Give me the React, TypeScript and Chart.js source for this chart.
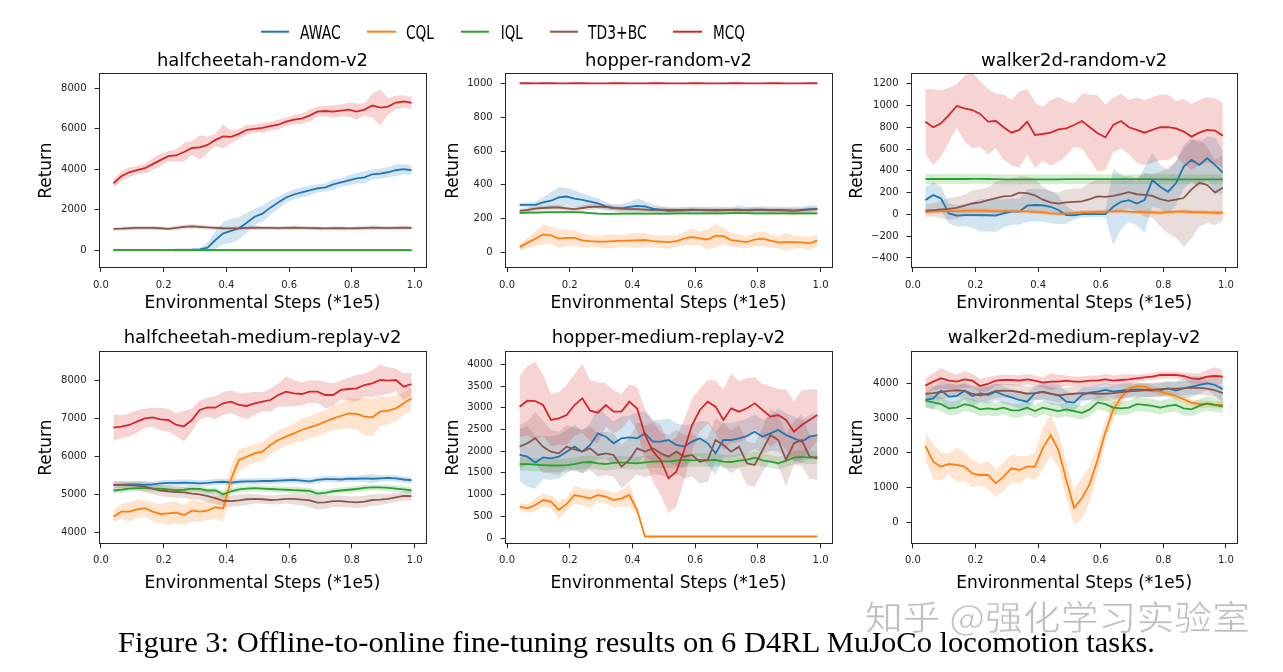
import React, { useEffect, useRef } from 'react';
import { Chart, registerables } from 'chart.js';

Chart.register(...registerables);
Chart.defaults.font.family = "'DejaVu Sans', sans-serif";

// ---------------- data ----------------
const STEPS = [0.04, 0.065, 0.09, 0.115, 0.14, 0.165, 0.19, 0.215, 0.24, 0.265, 0.29, 0.315, 0.34, 0.365, 0.39, 0.415, 0.44, 0.465, 0.49, 0.515, 0.54, 0.565, 0.59, 0.615, 0.64, 0.665, 0.69, 0.715, 0.74, 0.765, 0.79, 0.815, 0.84, 0.865, 0.89, 0.915, 0.94, 0.965, 0.99];
const X_TICKS = [0, 0.2, 0.4, 0.6, 0.8, 1.0];
const ALGOS = ['AWAC', 'CQL', 'IQL', 'TD3+BC', 'MCQ'];
const COLORS = ['#1f77b4', '#ff7f0e', '#2ca02c', '#8c564b', '#d62728'];
const BAND_COLORS = ['rgba(31,119,180,0.2)', 'rgba(255,127,14,0.2)', 'rgba(44,160,44,0.2)', 'rgba(140,86,75,0.2)', 'rgba(214,39,40,0.2)'];

// halfcheetah-random-v2
const HCR_Y_TICKS = [0, 2000, 4000, 6000, 8000];
const HCR_AWAC = [0, 0, 0, 0, 0, 0, 0, 0, 10, 10, 20, 40, 120, 500, 830, 950, 1080, 1350, 1650, 1800, 2100, 2350, 2600, 2750, 2850, 2950, 3050, 3100, 3250, 3350, 3450, 3550, 3600, 3750, 3780, 3850, 3950, 4000, 3950];
const HCR_AWAC_SD = [20, 20, 20, 20, 20, 20, 20, 20, 80, 80, 80, 80, 250, 450, 550, 600, 550, 500, 400, 400, 350, 300, 250, 250, 250, 250, 200, 200, 250, 200, 250, 250, 300, 250, 250, 250, 300, 250, 250];
const HCR_CQL = [0, 0, 0, 0, 0, 0, 0, 0, 0, 0, 0, 0, 0, 0, 0, 0, 0, 0, 0, 0, 0, 0, 0, 0, 0, 0, 0, 0, 0, 0, 0, 0, 0, 0, 0, 0, 0, 0, 0];
const HCR_CQL_SD = [30, 30, 30, 30, 30, 30, 30, 30, 30, 30, 30, 30, 30, 30, 30, 30, 30, 30, 30, 30, 30, 30, 30, 30, 30, 30, 30, 30, 30, 30, 30, 30, 30, 30, 30, 30, 30, 30, 30];
const HCR_IQL = [0, 0, 0, 0, 0, 0, 0, 0, 0, 0, 0, 0, 0, 0, 0, 0, 0, 0, 0, 0, 0, 0, 0, 0, 0, 0, 0, 0, 0, 0, 0, 0, 0, 0, 0, 0, 0, 0, 0];
const HCR_IQL_SD = [20, 20, 20, 20, 20, 20, 20, 20, 20, 20, 20, 20, 20, 20, 20, 20, 20, 20, 20, 20, 20, 20, 20, 20, 20, 20, 20, 20, 20, 20, 20, 20, 20, 20, 20, 20, 20, 20, 20];
const HCR_TD3BC = [1050, 1060, 1080, 1100, 1100, 1100, 1080, 1050, 1100, 1150, 1170, 1150, 1120, 1100, 1080, 1070, 1080, 1100, 1110, 1100, 1100, 1090, 1100, 1110, 1100, 1090, 1080, 1070, 1080, 1080, 1070, 1080, 1090, 1110, 1100, 1090, 1100, 1110, 1100];
const HCR_TD3BC_SD = [80, 90, 100, 100, 110, 100, 90, 80, 100, 110, 120, 110, 100, 100, 90, 90, 100, 100, 110, 100, 100, 90, 100, 110, 100, 100, 90, 90, 100, 100, 90, 100, 110, 120, 110, 100, 100, 110, 100];
const HCR_MCQ = [3300, 3650, 3850, 3950, 4050, 4250, 4450, 4650, 4680, 4850, 5050, 5080, 5200, 5450, 5620, 5600, 5750, 5950, 6000, 6050, 6130, 6200, 6350, 6450, 6500, 6650, 6850, 6880, 6850, 6900, 6950, 6850, 6950, 7150, 7050, 7100, 7300, 7350, 7280];
const HCR_MCQ_SD = [200, 250, 250, 200, 250, 300, 300, 250, 300, 450, 350, 600, 400, 300, 600, 300, 250, 250, 200, 250, 200, 250, 200, 250, 250, 300, 250, 250, 300, 300, 350, 400, 300, 600, 900, 400, 350, 300, 300];

// hopper-random-v2
const HR_Y_TICKS = [0, 200, 400, 600, 800, 1000];
const HR_AWAC = [280, 280, 280, 295, 305, 325, 330, 318, 310, 300, 290, 272, 262, 260, 268, 275, 272, 258, 250, 245, 246, 248, 250, 250, 248, 250, 248, 250, 252, 248, 250, 252, 250, 250, 248, 246, 250, 255, 255];
const HR_AWAC_SD = [10, 15, 20, 30, 50, 60, 50, 50, 40, 35, 30, 25, 20, 25, 30, 45, 30, 25, 25, 20, 20, 20, 20, 20, 20, 20, 20, 20, 25, 20, 20, 20, 20, 20, 20, 25, 20, 25, 20];
const HR_CQL = [30, 55, 80, 105, 100, 80, 85, 85, 70, 65, 62, 62, 65, 68, 68, 70, 72, 65, 62, 60, 65, 80, 90, 82, 75, 98, 95, 72, 65, 60, 75, 80, 68, 58, 60, 60, 58, 52, 70];
const HR_CQL_SD = [20, 30, 45, 60, 50, 55, 50, 45, 40, 35, 35, 40, 40, 35, 40, 45, 40, 35, 35, 40, 35, 40, 50, 40, 60, 70, 50, 40, 40, 35, 40, 45, 40, 35, 55, 40, 35, 40, 35];
const HR_IQL = [232, 234, 235, 236, 237, 238, 238, 238, 236, 232, 228, 227, 227, 228, 228, 228, 228, 229, 229, 229, 230, 230, 230, 230, 230, 230, 230, 231, 231, 231, 230, 230, 230, 230, 230, 230, 230, 230, 230];
const HR_IQL_SD = [8, 8, 8, 8, 8, 8, 8, 8, 8, 8, 8, 8, 8, 8, 8, 8, 8, 8, 8, 8, 8, 8, 8, 8, 8, 8, 8, 8, 8, 8, 8, 8, 8, 8, 8, 8, 8, 8, 8];
const HR_TD3BC = [245, 250, 258, 262, 265, 265, 260, 255, 262, 268, 270, 268, 262, 258, 255, 255, 252, 250, 252, 250, 250, 250, 252, 250, 250, 248, 250, 250, 248, 250, 252, 250, 248, 250, 248, 246, 248, 252, 256];
const HR_TD3BC_SD = [12, 14, 15, 15, 15, 16, 15, 14, 15, 16, 16, 15, 15, 14, 14, 14, 14, 14, 14, 14, 14, 14, 14, 14, 14, 14, 14, 14, 14, 14, 14, 14, 14, 14, 14, 14, 14, 14, 14];
const HR_MCQ = [1002, 1002, 1001, 1002, 1002, 1001, 1001, 1002, 1002, 1001, 1001, 1001, 1002, 1002, 1001, 1001, 1001, 1002, 1002, 1001, 1001, 1001, 1002, 1002, 1001, 1001, 1001, 1002, 1002, 1001, 1001, 1001, 1002, 1002, 1001, 1001, 1001, 1002, 1002];
const HR_MCQ_SD = [3, 3, 3, 3, 3, 3, 3, 3, 3, 3, 3, 3, 3, 3, 3, 3, 3, 3, 3, 3, 3, 3, 3, 3, 3, 3, 3, 3, 3, 3, 3, 3, 3, 3, 3, 3, 3, 3, 3];

// walker2d-random-v2
const WR_Y_TICKS = [-400, -200, 0, 200, 400, 600, 800, 1000, 1200];
const WR_AWAC = [131, 177, 147, 9, -12, -6, -6, -8, -8, -10, 9, 25, 25, 80, 86, 84, 70, 40, -6, -8, 3, 3, 3, 3, 70, 116, 131, 100, 131, 316, 254, 208, 285, 438, 500, 454, 515, 454, 383];
const WR_AWAC_SD = [120, 120, 110, 90, 100, 100, 120, 150, 150, 150, 130, 120, 120, 150, 150, 150, 150, 130, 80, 40, 30, 30, 30, 30, 350, 250, 200, 200, 300, 250, 200, 200, 200, 200, 200, 200, 200, 250, 200];
const WR_CQL = [20, 25, 28, 30, 30, 32, 35, 35, 33, 30, 30, 28, 30, 28, 22, 18, 10, 5, 8, 12, 18, 20, 24, 26, 28, 30, 25, 22, 20, 18, 15, 20, 25, 28, 22, 20, 18, 15, 15];
const WR_CQL_SD = [20, 20, 20, 20, 20, 20, 20, 20, 20, 20, 20, 20, 20, 20, 20, 20, 20, 20, 20, 20, 20, 20, 20, 20, 20, 20, 20, 20, 20, 20, 20, 20, 20, 20, 20, 20, 20, 20, 20];
const WR_IQL = [325, 325, 325, 325, 325, 325, 326, 326, 325, 324, 322, 322, 322, 322, 322, 322, 322, 322, 323, 323, 323, 323, 323, 323, 323, 323, 323, 323, 323, 323, 322, 322, 322, 322, 322, 322, 322, 322, 322];
const WR_IQL_SD = [45, 45, 45, 45, 45, 45, 45, 45, 45, 45, 45, 45, 45, 45, 45, 45, 45, 45, 45, 45, 45, 45, 45, 45, 45, 45, 45, 45, 45, 45, 45, 45, 45, 45, 45, 45, 45, 45, 45];
const WR_TD3BC = [35, 40, 45, 50, 60, 80, 100, 110, 130, 150, 165, 170, 200, 195, 175, 135, 110, 100, 110, 115, 120, 140, 165, 160, 170, 185, 205, 185, 180, 170, 140, 125, 135, 150, 230, 290, 270, 200, 245];
const WR_TD3BC_SD = [60, 60, 80, 100, 100, 100, 120, 120, 120, 150, 150, 150, 150, 150, 150, 120, 100, 100, 120, 120, 120, 150, 150, 150, 150, 150, 150, 150, 200, 200, 250, 300, 350, 450, 450, 400, 350, 300, 300];
const WR_MCQ = [851, 800, 836, 912, 995, 973, 958, 922, 851, 857, 800, 750, 775, 850, 729, 738, 750, 781, 790, 820, 857, 800, 744, 707, 820, 857, 800, 775, 750, 775, 800, 800, 790, 760, 714, 750, 775, 769, 723];
const WR_MCQ_SD = [300, 350, 300, 250, 200, 300, 350, 300, 300, 250, 300, 300, 350, 300, 300, 250, 300, 300, 250, 200, 250, 300, 350, 300, 250, 250, 250, 300, 300, 300, 300, 300, 250, 300, 300, 300, 300, 300, 300];

// halfcheetah-medium-replay-v2
const HMR_Y_TICKS = [4000, 5000, 6000, 7000, 8000];
const HMR_AWAC = [5250, 5255, 5260, 5260, 5250, 5260, 5290, 5300, 5300, 5310, 5300, 5290, 5300, 5320, 5330, 5310, 5330, 5340, 5340, 5350, 5350, 5360, 5370, 5380, 5360, 5340, 5380, 5400, 5400, 5390, 5410, 5410, 5420, 5410, 5420, 5430, 5420, 5390, 5370];
const HMR_AWAC_SD = [80, 80, 80, 80, 80, 80, 80, 80, 80, 80, 80, 80, 80, 80, 80, 80, 80, 80, 80, 80, 80, 80, 80, 80, 80, 80, 80, 80, 80, 80, 80, 80, 100, 120, 80, 80, 80, 80, 80];
const HMR_CQL = [4412, 4544, 4544, 4605, 4632, 4544, 4482, 4500, 4517, 4456, 4570, 4544, 4570, 4658, 4632, 5400, 5904, 5991, 6079, 6123, 6298, 6430, 6518, 6605, 6693, 6763, 6825, 6912, 7000, 7061, 7132, 7114, 7044, 7026, 7175, 7202, 7263, 7395, 7526];
const HMR_CQL_SD = [150, 200, 250, 250, 200, 250, 250, 300, 300, 250, 300, 250, 250, 300, 350, 350, 300, 250, 250, 250, 250, 250, 250, 250, 300, 300, 300, 300, 300, 350, 400, 400, 500, 500, 400, 350, 350, 300, 300];
const HMR_IQL = [5100, 5120, 5150, 5160, 5160, 5150, 5150, 5130, 5110, 5120, 5150, 5140, 5100, 5100, 5000, 5080, 5130, 5150, 5160, 5150, 5140, 5130, 5120, 5110, 5100, 5090, 5020, 5040, 5080, 5100, 5120, 5140, 5170, 5180, 5180, 5170, 5150, 5130, 5100];
const HMR_IQL_SD = [80, 80, 80, 80, 80, 80, 80, 80, 80, 80, 80, 80, 80, 80, 80, 80, 80, 80, 80, 80, 80, 80, 80, 80, 80, 80, 80, 80, 80, 80, 80, 80, 80, 80, 80, 80, 80, 80, 80];
const HMR_TD3BC = [5250, 5250, 5240, 5230, 5200, 5150, 5100, 5080, 5060, 5050, 5020, 5000, 4950, 4900, 4830, 4820, 4840, 4870, 4880, 4870, 4850, 4860, 4880, 4880, 4860, 4840, 4780, 4790, 4820, 4820, 4800, 4790, 4810, 4850, 4860, 4880, 4920, 4960, 4950];
const HMR_TD3BC_SD = [100, 100, 100, 120, 150, 150, 150, 150, 150, 150, 150, 150, 150, 150, 150, 150, 150, 150, 120, 120, 120, 120, 120, 150, 150, 180, 180, 180, 150, 150, 150, 150, 150, 150, 150, 120, 120, 120, 120];
const HMR_MCQ = [6754, 6780, 6825, 6912, 7000, 7026, 6974, 6956, 6825, 6790, 6956, 7219, 7289, 7280, 7395, 7439, 7351, 7325, 7395, 7439, 7482, 7614, 7702, 7658, 7640, 7702, 7702, 7614, 7614, 7746, 7772, 7790, 7877, 7921, 8009, 7991, 8009, 7833, 7903];
const HMR_MCQ_SD = [350, 300, 300, 300, 250, 250, 300, 300, 300, 400, 300, 250, 250, 300, 300, 300, 300, 350, 300, 250, 300, 300, 400, 350, 300, 300, 300, 350, 300, 250, 300, 350, 300, 350, 400, 350, 300, 350, 300];

// hopper-medium-replay-v2
const HOMR_Y_TICKS = [0, 500, 1000, 1500, 2000, 2500, 3000, 3500, 4000];
const HOMR_AWAC = [1912, 1873, 1735, 1858, 1835, 1873, 1989, 2104, 1989, 2142, 2411, 2334, 2181, 2296, 2319, 2296, 2411, 2219, 2219, 2257, 2142, 2104, 2219, 2296, 2181, 1950, 2257, 2257, 2296, 2349, 2449, 2334, 2411, 2488, 2372, 2296, 2219, 2334, 2372];
const HOMR_AWAC_SD = [600, 700, 600, 500, 500, 500, 500, 500, 500, 500, 600, 500, 500, 500, 500, 600, 500, 500, 500, 500, 500, 500, 400, 400, 500, 500, 400, 400, 400, 400, 400, 400, 400, 500, 500, 500, 500, 500, 500];
const HOMR_CQL = [722, 683, 760, 875, 837, 650, 780, 990, 952, 914, 990, 952, 875, 914, 990, 640, 35, 35, 35, 35, 35, 35, 35, 35, 35, 35, 35, 35, 35, 35, 35, 35, 35, 35, 35, 35, 35, 35, 35];
const HOMR_CQL_SD = [80, 100, 150, 150, 150, 200, 150, 200, 200, 200, 150, 150, 150, 200, 250, 100, 5, 5, 5, 5, 5, 5, 5, 5, 5, 5, 5, 5, 5, 5, 5, 5, 5, 5, 5, 5, 5, 5, 5];
const HOMR_IQL = [1700, 1700, 1690, 1680, 1670, 1670, 1680, 1700, 1740, 1750, 1720, 1700, 1730, 1740, 1730, 1720, 1740, 1760, 1770, 1760, 1780, 1800, 1790, 1800, 1790, 1800, 1760, 1750, 1780, 1800, 1850, 1790, 1760, 1720, 1780, 1850, 1870, 1850, 1860];
const HOMR_IQL_SD = [150, 150, 150, 150, 150, 150, 150, 150, 150, 150, 150, 150, 150, 150, 150, 150, 150, 150, 150, 150, 150, 150, 150, 150, 150, 150, 150, 150, 150, 150, 150, 150, 150, 150, 150, 150, 150, 150, 150];
const HOMR_TD3BC = [2104, 2181, 2300, 2100, 1989, 1950, 2104, 2042, 1989, 2065, 1912, 1950, 1912, 1643, 1797, 2065, 1989, 2065, 1950, 1873, 1989, 1873, 1912, 1758, 1797, 2257, 2142, 1989, 2104, 1720, 1681, 2027, 2372, 2257, 1797, 2181, 2257, 1873, 1835];
const HOMR_TD3BC_SD = [500, 500, 600, 600, 500, 500, 500, 500, 500, 500, 500, 500, 500, 500, 500, 600, 600, 600, 500, 500, 500, 500, 500, 500, 500, 500, 500, 500, 500, 500, 500, 500, 600, 600, 600, 500, 600, 500, 500];
const HOMR_MCQ = [3025, 3163, 3155, 3063, 2718, 2756, 2833, 3063, 3217, 2933, 2887, 3063, 2910, 2910, 3140, 2980, 2372, 2000, 1797, 1374, 1528, 2027, 2603, 2948, 3140, 3025, 2718, 2987, 2910, 2987, 3102, 2948, 2795, 2833, 2718, 2449, 2603, 2718, 2833];
const HOMR_MCQ_SD = [700, 800, 900, 700, 600, 600, 700, 700, 800, 700, 700, 500, 500, 400, 400, 500, 600, 700, 800, 800, 800, 700, 600, 500, 500, 600, 700, 800, 700, 700, 600, 600, 700, 600, 700, 700, 800, 700, 600];

// walker2d-medium-replay-v2
const WMR_Y_TICKS = [0, 1000, 2000, 3000, 4000];
const WMR_AWAC = [3520, 3568, 3789, 3616, 3635, 3789, 3635, 3712, 3664, 3760, 3664, 3597, 3520, 3472, 3712, 3760, 3693, 3664, 3472, 3443, 3664, 3731, 3760, 3808, 3760, 3789, 3808, 3827, 3808, 3789, 3808, 3856, 3789, 3856, 3904, 3952, 4000, 3952, 3827];
const WMR_AWAC_SD = [200, 300, 300, 400, 300, 250, 300, 250, 250, 250, 250, 250, 250, 250, 200, 250, 300, 300, 300, 250, 200, 200, 200, 200, 200, 200, 200, 200, 200, 200, 200, 200, 250, 300, 300, 250, 200, 300, 400];
const WMR_CQL = [2200, 1746, 1602, 1679, 1650, 1602, 1410, 1362, 1362, 1122, 1314, 1554, 1506, 1602, 1602, 2129, 2513, 2081, 1218, 420, 700, 1100, 1800, 2600, 3250, 3600, 3850, 3920, 3904, 3827, 3760, 3693, 3635, 3539, 3443, 3405, 3405, 3376, 3376];
const WMR_CQL_SD = [400, 500, 400, 300, 500, 400, 400, 300, 400, 400, 400, 400, 400, 300, 400, 600, 600, 500, 500, 500, 600, 500, 400, 300, 300, 200, 100, 100, 100, 100, 100, 100, 100, 100, 100, 100, 100, 100, 100];
const WMR_IQL = [3500, 3450, 3400, 3280, 3300, 3400, 3350, 3250, 3280, 3250, 3300, 3220, 3220, 3300, 3200, 3300, 3250, 3200, 3250, 3200, 3150, 3250, 3450, 3400, 3300, 3280, 3300, 3400, 3380, 3350, 3300, 3350, 3380, 3280, 3250, 3350, 3420, 3380, 3330];
const WMR_IQL_SD = [200, 200, 200, 200, 200, 200, 200, 200, 200, 200, 200, 200, 200, 200, 200, 200, 200, 200, 200, 200, 200, 200, 200, 200, 200, 200, 200, 200, 200, 200, 200, 200, 200, 200, 200, 200, 200, 200, 200];
const WMR_TD3BC = [3700, 3720, 3750, 3780, 3800, 3780, 3700, 3650, 3700, 3780, 3790, 3780, 3750, 3700, 3720, 3750, 3700, 3650, 3680, 3700, 3720, 3710, 3700, 3700, 3720, 3750, 3770, 3780, 3800, 3810, 3830, 3850, 3850, 3860, 3880, 3870, 3850, 3800, 3720];
const WMR_TD3BC_SD = [200, 200, 200, 200, 200, 200, 200, 200, 200, 200, 200, 200, 200, 200, 200, 200, 200, 200, 200, 200, 200, 200, 200, 200, 200, 200, 200, 200, 200, 200, 200, 200, 200, 200, 200, 200, 200, 200, 200];
const WMR_MCQ = [3933, 4048, 4144, 4077, 4048, 4115, 4077, 3923, 3981, 4077, 4096, 4096, 4077, 4115, 4077, 4019, 4048, 4048, 4077, 4048, 4048, 4077, 4077, 4115, 4077, 4096, 4115, 4144, 4173, 4192, 4240, 4240, 4240, 4211, 4144, 4125, 4192, 4211, 4192];
const WMR_MCQ_SD = [200, 250, 300, 250, 200, 250, 200, 200, 200, 150, 150, 150, 150, 150, 150, 150, 250, 200, 150, 150, 150, 150, 150, 150, 150, 150, 150, 100, 100, 100, 100, 100, 100, 100, 150, 150, 200, 250, 200];

// ---------------- layout ----------------
type Panel = {
  title: string; means: number[][]; spreads: number[][]; yTicks: number[]; yMin: number; yMax: number;
  left: number; top: number; width: number; height: number; yAxisW: number; rightPad: number;
  titlePadTop: number; titlePadBottom: number; xAxisH: number; yTitlePad: number; xTickPad: number;
};

const ROW1 = { top: 40, height: 280, titlePadTop: 10.5, titlePadBottom: 1.2, xAxisH: 52, xTickPad: 7 };
const ROW2 = { top: 320, height: 280, titlePadTop: 7.1, titlePadBottom: 2.3, xAxisH: 55.7, xTickPad: 6.5 };
const COL1 = { left: 0, width: 445, yAxisW: 98.5, rightPad: 18.5, yTitlePad: 36.5 };
const COL2 = { left: 430, width: 420, yAxisW: 74.7, rightPad: 17.7, yTitlePad: 13 };
const COL3 = { left: 835, width: 448, yAxisW: 75.5, rightPad: 45.3, yTitlePad: 12.8 };

const PANELS: Panel[] = [
  { title: 'halfcheetah-random-v2', means: [HCR_AWAC, HCR_CQL, HCR_IQL, HCR_TD3BC, HCR_MCQ], spreads: [HCR_AWAC_SD, HCR_CQL_SD, HCR_IQL_SD, HCR_TD3BC_SD, HCR_MCQ_SD], yTicks: HCR_Y_TICKS, yMin: -885, yMax: 8744, ...ROW1, ...COL1 },
  { title: 'hopper-random-v2', means: [HR_AWAC, HR_CQL, HR_IQL, HR_TD3BC, HR_MCQ], spreads: [HR_AWAC_SD, HR_CQL_SD, HR_IQL_SD, HR_TD3BC_SD, HR_MCQ_SD], yTicks: HR_Y_TICKS, yMin: -94, yMax: 1061, ...ROW1, ...COL2 },
  { title: 'walker2d-random-v2', means: [WR_AWAC, WR_CQL, WR_IQL, WR_TD3BC, WR_MCQ], spreads: [WR_AWAC_SD, WR_CQL_SD, WR_IQL_SD, WR_TD3BC_SD, WR_MCQ_SD], yTicks: WR_Y_TICKS, yMin: -492, yMax: 1295, ...ROW1, ...COL3 },
  { title: 'halfcheetah-medium-replay-v2', means: [HMR_AWAC, HMR_CQL, HMR_IQL, HMR_TD3BC, HMR_MCQ], spreads: [HMR_AWAC_SD, HMR_CQL_SD, HMR_IQL_SD, HMR_TD3BC_SD, HMR_MCQ_SD], yTicks: HMR_Y_TICKS, yMin: 3684, yMax: 8772, ...ROW2, ...COL1 },
  { title: 'hopper-medium-replay-v2', means: [HOMR_AWAC, HOMR_CQL, HOMR_IQL, HOMR_TD3BC, HOMR_MCQ], spreads: [HOMR_AWAC_SD, HOMR_CQL_SD, HOMR_IQL_SD, HOMR_TD3BC_SD, HOMR_MCQ_SD], yTicks: HOMR_Y_TICKS, yMin: -145, yMax: 4307, ...ROW2, ...COL2 },
  { title: 'walker2d-medium-replay-v2', means: [WMR_AWAC, WMR_CQL, WMR_IQL, WMR_TD3BC, WMR_MCQ], spreads: [WMR_AWAC_SD, WMR_CQL_SD, WMR_IQL_SD, WMR_TD3BC_SD, WMR_MCQ_SD], yTicks: WMR_Y_TICKS, yMin: -633, yMax: 4930, ...ROW2, ...COL3 },
];

const LEGEND_POS = [
  { x1: 261, x2: 289, tx: 300, tw: 40.7 },
  { x1: 367, x2: 396, tx: 406, tw: 28 },
  { x1: 461, x2: 489, tx: 500.7, tw: 22 },
  { x1: 550, x2: 578, tx: 588, tw: 58.7 },
  { x1: 673, x2: 702, tx: 713, tw: 32 },
];

const framePlugin = {
  id: 'frame',
  afterDatasetsDraw(chart: any) {
    const { ctx, chartArea: a } = chart;
    ctx.save();
    ctx.strokeStyle = '#262626';
    ctx.lineWidth = 1;
    ctx.strokeRect(Math.round(a.left) + 0.5, Math.round(a.top) + 0.5, Math.round(a.right - a.left) - 1, Math.round(a.bottom - a.top) - 1);
    ctx.restore();
  },
};

function buildDatasets(p: Panel) {
  const lines: any[] = [];
  const bands: any[] = [];
  for (let k = ALGOS.length - 1; k >= 0; k--) {
    const m = p.means[k];
    lines.push({
      label: ALGOS[k],
      data: STEPS.map((x, i) => ({ x, y: m[i] })),
      borderColor: COLORS[k], borderWidth: 1.8, pointRadius: 0, fill: false, tension: 0, order: 0,
    });
  }
  for (let k = ALGOS.length - 1; k >= 0; k--) {
    const m = p.means[k];
    const s = p.spreads[k];
    bands.push({
      label: ALGOS[k] + ' hi',
      data: STEPS.map((x, i) => ({ x, y: m[i] + s[i] })),
      borderWidth: 0, borderColor: 'rgba(0,0,0,0)', pointRadius: 0, backgroundColor: BAND_COLORS[k], fill: '+1', tension: 0, order: 1,
    });
    bands.push({
      label: ALGOS[k] + ' lo',
      data: STEPS.map((x, i) => ({ x, y: m[i] - s[i] })),
      borderWidth: 0, borderColor: 'rgba(0,0,0,0)', pointRadius: 0, fill: false, tension: 0, order: 1,
    });
  }
  return [...lines, ...bands];
}

function PanelChart({ p }: { p: Panel }) {
  const ref = useRef<HTMLCanvasElement>(null);
  useEffect(() => {
    const chart = new Chart(ref.current as HTMLCanvasElement, {
      type: 'line',
      data: { datasets: buildDatasets(p) },
      plugins: [framePlugin],
      options: {
        responsive: false,
        animation: false,
        events: [],
        layout: { padding: { left: 0, right: p.rightPad, top: 0, bottom: 0 } },
        plugins: {
          legend: { display: false },
          tooltip: { enabled: false },
          title: {
            display: true, text: p.title, color: '#000', fullSize: false,
            font: { size: 18, weight: 'normal' as any, family: "'DejaVu Sans', sans-serif" },
            padding: { top: p.titlePadTop, bottom: p.titlePadBottom },
          },
        },
        scales: {
          x: {
            type: 'linear', min: -0.0075, max: 1.0375,
            afterBuildTicks: (axis: any) => { axis.ticks = X_TICKS.map((v) => ({ value: v })); },
            afterFit: (axis: any) => { axis.height = p.xAxisH; },
            ticks: { autoSkip: false, maxRotation: 0, color: '#222', font: { size: 10 }, padding: p.xTickPad, callback: (v: any) => Number(v).toFixed(1) },
            grid: { drawOnChartArea: false, drawTicks: true, tickLength: 4, tickColor: '#262626', lineWidth: 1 },
            border: { display: false },
            title: { display: true, text: 'Environmental Steps (*1e5)', color: '#000', font: { size: 17 }, padding: { top: 0, bottom: 6.6 } },
          },
          y: {
            type: 'linear', min: p.yMin, max: p.yMax,
            afterBuildTicks: (axis: any) => { axis.ticks = p.yTicks.map((v) => ({ value: v })); },
            afterFit: (axis: any) => { axis.width = p.yAxisW; },
            ticks: { autoSkip: false, color: '#222', font: { size: 10 }, padding: 8, callback: (v: any) => String(v).replace('-', '\u2212') },
            grid: { drawOnChartArea: false, drawTicks: true, tickLength: 4, tickColor: '#262626', lineWidth: 1 },
            border: { display: false },
            title: { display: true, text: 'Return', color: '#000', font: { size: 17 }, padding: { top: p.yTitlePad, bottom: 0 } },
          },
        },
      } as any,
    });
    return () => chart.destroy();
  }, [p]);
  return (
    <canvas
      ref={ref}
      width={p.width}
      height={p.height}
      style={{ position: 'absolute', left: p.left, top: p.top, width: p.width, height: p.height }}
    />
  );
}

export default function App() {
  return (
    <div style={{ position: 'absolute', left: 0, top: 0, width: 1283, height: 672, background: '#fff', overflow: 'hidden' }}>
      {PANELS.map((p, i) => (
        <PanelChart key={i} p={p} />
      ))}
      <svg width={1283} height={672} style={{ position: 'absolute', left: 0, top: 0, pointerEvents: 'none' }}>
        {ALGOS.map((a, k) => (
          <g key={a}>
            <line x1={LEGEND_POS[k].x1} x2={LEGEND_POS[k].x2} y1={31.7} y2={31.7} stroke={COLORS[k]} strokeWidth={2} />
            <text x={LEGEND_POS[k].tx} y={39} fontFamily="'DejaVu Sans', sans-serif" fontSize={19} fill="#000" textLength={LEGEND_POS[k].tw} lengthAdjust="spacingAndGlyphs">{a}</text>
          </g>
        ))}
        <text x={118} y={651.7} fontFamily="'Liberation Serif', 'Times New Roman', serif" fontSize={30} fill="#000" textLength={1037} lengthAdjust="spacingAndGlyphs">
          Figure 3: Offline-to-online fine-tuning results on 6 D4RL MuJoCo locomotion tasks.
        </text>
        <text x={865} y={630} fontFamily="'Noto Sans CJK SC', sans-serif" fontSize={34} fill="#b8b8b8" fillOpacity={0.9} stroke="#ffffff" strokeWidth={0.6} textLength={385} lengthAdjust="spacingAndGlyphs">
          知乎 @强化学习实验室
        </text>
      </svg>
    </div>
  );
}
